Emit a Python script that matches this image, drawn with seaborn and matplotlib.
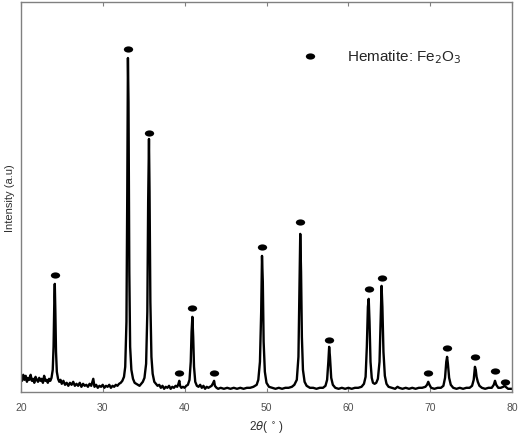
import matplotlib
matplotlib.use("Agg")
import matplotlib.pyplot as plt
import seaborn as sns
from matplotlib.path import Path
from matplotlib.transforms import Affine2D

# XRD trace (2theta in degrees, intensity in arbitrary units)
two_theta = [
    20.0, 20.15, 20.3, 20.45, 20.6, 20.75, 20.9, 21.05, 21.2, 21.35, 21.5, 21.65, 21.8, 21.95,
    22.1, 22.25, 22.4, 22.55, 22.7, 22.85, 23.0, 23.15, 23.3, 23.45, 23.6, 23.75, 23.9, 24.0,
    24.1, 24.15, 24.22, 24.3, 24.4, 24.55, 24.7, 24.85, 25.0, 25.2, 25.4, 25.6, 25.8, 26.0,
    26.2, 26.4, 26.6, 26.8, 27.0, 27.2, 27.4, 27.6, 27.8, 28.0, 28.2, 28.4, 28.6, 28.85,
    29.0, 29.2, 29.4, 29.6, 29.8, 30.0, 30.2, 30.4, 30.6, 30.8, 31.0, 31.2, 31.4, 31.6,
    31.8, 32.0, 32.2, 32.4, 32.6, 32.75, 32.9, 33.0, 33.08, 33.15, 33.25, 33.35, 33.5, 33.7,
    33.9, 34.1, 34.3, 34.5, 34.7, 34.9, 35.1, 35.3, 35.45, 35.55, 35.65, 35.72, 35.82, 35.95,
    36.1, 36.3, 36.5, 36.7, 36.9, 37.1, 37.3, 37.5, 37.7, 37.9, 38.1, 38.3, 38.5, 38.7,
    38.9, 39.1, 39.25, 39.35, 39.45, 39.6, 39.8, 40.0, 40.2, 40.4, 40.6, 40.75, 40.85, 40.95,
    41.05, 41.15, 41.3, 41.5, 41.7, 41.9, 42.1, 42.3, 42.5, 42.7, 42.9, 43.1, 43.3, 43.5,
    43.6, 43.7, 43.9, 44.1, 44.4, 44.8, 45.2, 45.6, 46.0, 46.4, 46.8, 47.2, 47.6, 48.0,
    48.4, 48.8, 49.0, 49.2, 49.35, 49.45, 49.55, 49.65, 49.8, 50.0, 50.3, 50.7, 51.1, 51.5,
    51.9, 52.3, 52.7, 53.1, 53.4, 53.7, 53.9, 54.0, 54.12, 54.22, 54.32, 54.45, 54.65, 54.9,
    55.3, 55.7, 56.1, 56.5, 56.9, 57.2, 57.4, 57.55, 57.65, 57.75, 57.9, 58.1, 58.4, 58.8,
    59.2, 59.6, 60.0, 60.4, 60.8, 61.2, 61.6, 61.9, 62.1, 62.25, 62.38, 62.48, 62.58, 62.7,
    62.85, 63.0, 63.2, 63.4, 63.6, 63.8, 63.95, 64.05, 64.15, 64.28, 64.45, 64.65, 64.9, 65.3,
    65.7, 66.0, 66.2, 66.6, 67.0, 67.4, 67.8, 68.2, 68.6, 69.0, 69.4, 69.6, 69.75, 69.9,
    70.1, 70.5, 70.9, 71.3, 71.6, 71.8, 71.95, 72.05, 72.15, 72.3, 72.5, 72.8, 73.2, 73.6,
    74.0, 74.4, 74.8, 75.1, 75.3, 75.45, 75.55, 75.65, 75.8, 76.0, 76.3, 76.7, 77.1, 77.5,
    77.75, 77.9, 78.05, 78.3, 78.6, 78.9, 79.05, 79.2, 79.5, 79.8, 80.0,
]
intensity = [
    15, 11, 17, 12, 16, 10, 14, 12, 17, 11, 13, 9, 15, 12,
    10, 14, 11, 13, 9, 16, 11, 12, 9, 13, 11, 14, 22, 45,
    95, 108, 80, 40, 20, 13, 10, 12, 8, 11, 7, 9, 6, 9,
    7, 10, 6, 8, 6, 9, 5, 8, 6, 7, 5, 8, 6, 13,
    5, 7, 4, 6, 5, 7, 4, 6, 5, 7, 4, 6, 5, 7,
    6, 8, 9, 11, 15, 25, 70, 200, 334, 290, 120, 45, 22, 13,
    9, 8, 7, 6, 8, 10, 14, 28, 80, 190, 253, 200, 90, 35,
    18, 10, 8, 6, 7, 4, 6, 3, 5, 4, 6, 3, 5, 4,
    6, 5, 8, 11, 6, 4, 5, 4, 6, 7, 12, 30, 60, 75,
    55, 25, 10, 6, 5, 7, 4, 6, 3, 5, 4, 5, 6, 9,
    11, 6, 4, 3, 4, 3, 4, 3, 4, 3, 4, 3, 4, 4,
    5, 7, 12, 30, 80, 136, 110, 50, 20, 9, 5, 4, 3, 4,
    3, 4, 4, 5, 7, 12, 35, 90, 158, 120, 55, 22, 10, 6,
    4, 4, 3, 4, 4, 6, 12, 30, 45, 35, 14, 7, 4, 3,
    4, 3, 4, 3, 4, 4, 5, 8, 15, 45, 85, 93, 70, 30,
    14, 9, 8, 9, 13, 30, 75, 106, 85, 40, 16, 8, 5, 4,
    3, 5, 4, 3, 4, 3, 4, 3, 4, 4, 5, 7, 10, 7,
    4, 3, 4, 4, 6, 14, 30, 35, 28, 14, 7, 4, 3, 4,
    3, 4, 4, 6, 12, 25, 22, 15, 10, 6, 4, 3, 4, 4,
    7, 11, 7, 4, 4, 5, 6, 5, 3, 3, 3,
]

# hematite reflections marked with a dot above each peak
hematite_pos = [24.15, 33.08, 35.65, 39.35, 40.95, 43.6, 49.45, 54.12, 57.65,
                62.48, 64.05, 69.75, 72.05, 75.45, 77.9, 79.1]
hematite_mark = [117, 343, 259, 19, 84, 19, 145, 170, 52,
                 103, 114, 19, 44, 35, 21, 10]

sns.set_style("white")
plt.rcParams["font.family"] = ["Liberation Sans", "DejaVu Sans"]

fig = plt.figure(figsize=(5.2, 4.35), dpi=100)
ax = fig.add_axes([0.040, 0.097, 0.945, 0.896])

sns.lineplot(x=two_theta, y=intensity, color="black", linewidth=1.7, ax=ax,
             estimator=None, sort=False)

oval = Path.unit_circle().transformed(Affine2D().scale(1.5, 1.0))
sns.scatterplot(x=hematite_pos, y=hematite_mark, marker=oval, s=45, color="black",
                edgecolor="black", linewidth=0, ax=ax, label="Hematite: Fe$_2$O$_3$")

ax.set_xlim(20, 80)
ax.set_ylim(0, 390)
ax.set_xticks(range(20, 81, 10))
ax.set_yticks([])
ax.tick_params(axis="x", direction="in", length=3, top=True, bottom=True,
               labelsize=7.5, labelcolor="#505050", color="#808080", pad=7)
for s in ax.spines.values():
    s.set_color("#808080")
    s.set_linewidth(1.0)

ax.set_xlabel(r"2$\theta$( $^{\circ}$ )", fontsize=8.5, color="#303030", labelpad=5)
ax.set_ylabel("Intensity (a.u)", fontsize=8, color="#303030", labelpad=4)

ax.legend(loc="upper left", bbox_to_anchor=(0.53, 0.92), frameon=False,
          fontsize=11, handletextpad=1.4, markerscale=1.0)

fig.savefig("out.png", dpi=100)
